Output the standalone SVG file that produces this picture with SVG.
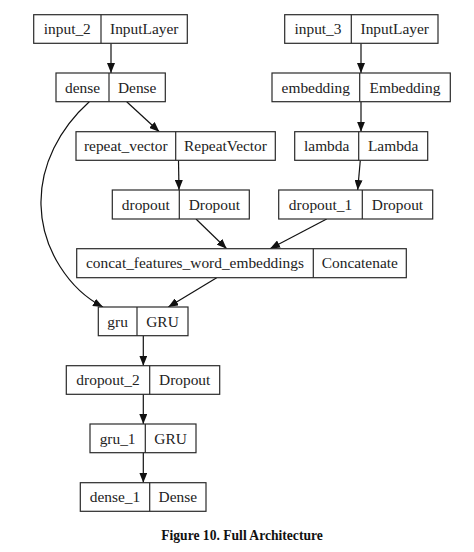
<svg xmlns="http://www.w3.org/2000/svg" width="474" height="552" viewBox="0 0 474 552">
<style>
.b{fill:#fff;stroke:#2a2a2a;stroke-width:1.2}
.d{stroke:#2a2a2a;stroke-width:1.2}
.t{font-family:"Liberation Serif","Times New Roman",serif;font-size:15.4px;fill:#222;text-anchor:middle}
.e{fill:none;stroke:#111;stroke-width:1.2}
.cap{font-family:"Liberation Serif","Times New Roman",serif;font-size:13.6px;font-weight:bold;fill:#111;text-anchor:middle}
</style>
<defs>
<marker id="ah" markerUnits="userSpaceOnUse" markerWidth="11" markerHeight="8" refX="10" refY="4" orient="auto">
<path d="M0,0 L10,4 L0,8 z" fill="#111"/>
</marker>
</defs>
<rect width="474" height="552" fill="#fff"/>
<g id="connectors">
<line class="e" x1="111" y1="43.3" x2="111" y2="73" marker-end="url(#ah)"/>
<line class="e" x1="361" y1="43.3" x2="361" y2="73" marker-end="url(#ah)"/>
<line class="e" x1="126.7" y1="101.7" x2="159.3" y2="131.7" marker-end="url(#ah)"/>
<path class="e" d="M89.3,101.7 C60,128 40,165 41,205 C42,250 70,290 103,307" marker-end="url(#ah)"/>
<line class="e" x1="361" y1="101.7" x2="361" y2="131.7" marker-end="url(#ah)"/>
<line class="e" x1="178.5" y1="160.3" x2="179" y2="190" marker-end="url(#ah)"/>
<line class="e" x1="360.3" y1="160.3" x2="357.7" y2="190" marker-end="url(#ah)"/>
<line class="e" x1="196" y1="219" x2="226.7" y2="248.7" marker-end="url(#ah)"/>
<line class="e" x1="326.7" y1="219" x2="270" y2="248.7" marker-end="url(#ah)"/>
<line class="e" x1="216.7" y1="277.7" x2="168.3" y2="307" marker-end="url(#ah)"/>
<line class="e" x1="143.3" y1="335.7" x2="143.3" y2="365.7" marker-end="url(#ah)"/>
<line class="e" x1="143.3" y1="394.3" x2="143.3" y2="424" marker-end="url(#ah)"/>
<line class="e" x1="143.3" y1="452.7" x2="143.3" y2="482.7" marker-end="url(#ah)"/>
</g>
<g id="input_2">
<rect class="b" x="33.7" y="14.7" width="153.6" height="28.6"/>
<line class="d" x1="101" y1="14.7" x2="101" y2="43.3"/>
<text class="t" x="67.3" y="34.3">input_2</text>
<text class="t" x="144.2" y="34.3">InputLayer</text>
</g>
<g id="input_3">
<rect class="b" x="284.7" y="14.7" width="153.3" height="28.6"/>
<line class="d" x1="351.3" y1="14.7" x2="351.3" y2="43.3"/>
<text class="t" x="318" y="34.3">input_3</text>
<text class="t" x="394.7" y="34.3">InputLayer</text>
</g>
<g id="dense">
<rect class="b" x="56" y="73" width="109.3" height="28.7"/>
<line class="d" x1="109" y1="73" x2="109" y2="101.7"/>
<text class="t" x="82.5" y="92.6">dense</text>
<text class="t" x="137.2" y="92.6">Dense</text>
</g>
<g id="embedding">
<rect class="b" x="272" y="73" width="178.3" height="28.7"/>
<line class="d" x1="359.7" y1="73" x2="359.7" y2="101.7"/>
<text class="t" x="315.8" y="92.6">embedding</text>
<text class="t" x="405" y="92.6">Embedding</text>
</g>
<g id="repeat_vector">
<rect class="b" x="76" y="131.7" width="199.3" height="28.6"/>
<line class="d" x1="175.7" y1="131.7" x2="175.7" y2="160.3"/>
<text class="t" x="125.8" y="151.3">repeat_vector</text>
<text class="t" x="225.5" y="151.3">RepeatVector</text>
</g>
<g id="lambda">
<rect class="b" x="294.7" y="131.7" width="133" height="28.6"/>
<line class="d" x1="358.7" y1="131.7" x2="358.7" y2="160.3"/>
<text class="t" x="326.7" y="151.3">lambda</text>
<text class="t" x="393.2" y="151.3">Lambda</text>
</g>
<g id="dropout">
<rect class="b" x="112.3" y="190" width="137" height="29"/>
<line class="d" x1="179.3" y1="190" x2="179.3" y2="219"/>
<text class="t" x="145.8" y="209.7">dropout</text>
<text class="t" x="214.3" y="209.7">Dropout</text>
</g>
<g id="dropout_1">
<rect class="b" x="278.7" y="190" width="154" height="29"/>
<line class="d" x1="362.3" y1="190" x2="362.3" y2="219"/>
<text class="t" x="320.5" y="209.7">dropout_1</text>
<text class="t" x="397.5" y="209.7">Dropout</text>
</g>
<g id="concat_features_word_embeddings">
<rect class="b" x="76.7" y="248.7" width="329.6" height="29"/>
<line class="d" x1="313.3" y1="248.7" x2="313.3" y2="277.7"/>
<text class="t" x="195" y="268.4">concat_features_word_embeddings</text>
<text class="t" x="359.8" y="268.4">Concatenate</text>
</g>
<g id="gru">
<rect class="b" x="98.3" y="307" width="89.7" height="28.7"/>
<line class="d" x1="137" y1="307" x2="137" y2="335.7"/>
<text class="t" x="117.6" y="326.6">gru</text>
<text class="t" x="162.5" y="326.6">GRU</text>
</g>
<g id="dropout_2">
<rect class="b" x="66.3" y="365.7" width="153.4" height="28.6"/>
<line class="d" x1="149.7" y1="365.7" x2="149.7" y2="394.3"/>
<text class="t" x="108" y="385.3">dropout_2</text>
<text class="t" x="184.7" y="385.3">Dropout</text>
</g>
<g id="gru_1">
<rect class="b" x="90" y="424" width="106" height="28.7"/>
<line class="d" x1="145.3" y1="424" x2="145.3" y2="452.7"/>
<text class="t" x="117.6" y="443.6">gru_1</text>
<text class="t" x="170.6" y="443.6">GRU</text>
</g>
<g id="dense_1">
<rect class="b" x="80.3" y="482.7" width="125.7" height="28.6"/>
<line class="d" x1="149.7" y1="482.7" x2="149.7" y2="511.3"/>
<text class="t" x="115" y="502.3">dense_1</text>
<text class="t" x="177.8" y="502.3">Dense</text>
</g>
<text class="cap" x="242" y="540">Figure 10. Full Architecture</text>
</svg>
